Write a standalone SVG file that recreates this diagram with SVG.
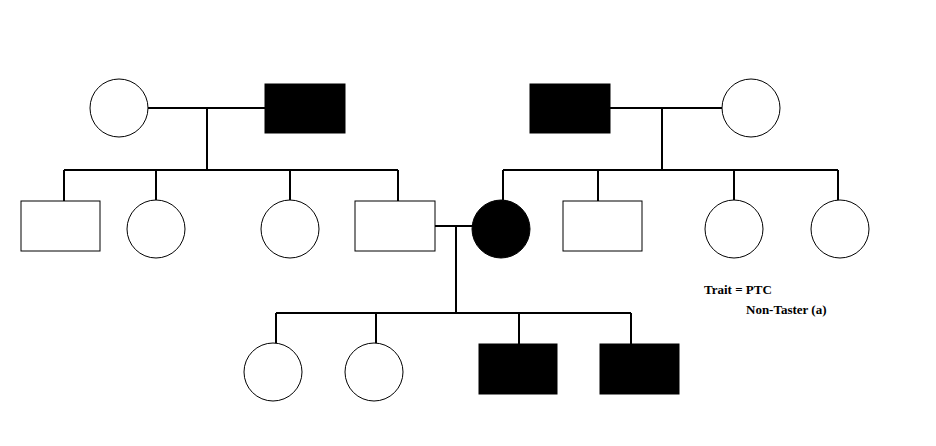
<svg xmlns="http://www.w3.org/2000/svg" width="936" height="446" viewBox="0 0 936 446">
<style>
.o{fill:#fff;stroke:#000;stroke-width:1}
.f{fill:#000;stroke:#000;stroke-width:1}
.l{stroke:#000;stroke-width:2;fill:none}
text{font-family:"Liberation Serif",serif;font-weight:bold;font-size:13px}
</style>
<rect width="936" height="446" fill="#fff"/>
<g id="connectors">
<path class="l" d="M148 108H265M207 108V170M64 170H398M64 170V201M156 170V200M290 170V200M398 170V201"/>
<path class="l" d="M610 108H722M662 108V170M503 170H838M503 170V200M598 170V201M734 170V200M838 170V200"/>
<path class="l" d="M435 226H473M456 226V313M276 313H631M276 313V343M376 313V343M519 313V344M631 313V344"/>
</g>
<g id="gf1"><circle class="o" cx="119" cy="108" r="29"/></g>
<g id="gm1"><rect class="f" x="265" y="84" width="80" height="49"/></g>
<g id="gm2"><rect class="f" x="530" y="84" width="80" height="49"/></g>
<g id="gf2"><circle class="o" cx="751" cy="108" r="29"/></g>
<g id="c1"><rect class="o" x="21" y="201" width="79" height="50"/></g>
<g id="c2"><circle class="o" cx="156" cy="229" r="29"/></g>
<g id="c3"><circle class="o" cx="290" cy="229" r="29"/></g>
<g id="father"><rect class="o" x="355" y="201" width="80" height="50"/></g>
<g id="mother"><circle class="f" cx="501" cy="229" r="29"/></g>
<g id="c5"><rect class="o" x="563" y="201" width="79" height="50"/></g>
<g id="c6"><circle class="o" cx="734" cy="229" r="29"/></g>
<g id="c7"><circle class="o" cx="840" cy="229" r="29"/></g>
<g id="g1"><circle class="o" cx="273" cy="372" r="29"/></g>
<g id="g2"><circle class="o" cx="374" cy="372" r="29"/></g>
<g id="g3"><rect class="f" x="479" y="344" width="78" height="50"/></g>
<g id="g4"><rect class="f" x="600" y="344" width="79" height="50"/></g>
<g id="legend">
<text x="704" y="294">Trait = PTC</text>
<text x="746" y="314">Non-Taster (a)</text>
</g>
</svg>
